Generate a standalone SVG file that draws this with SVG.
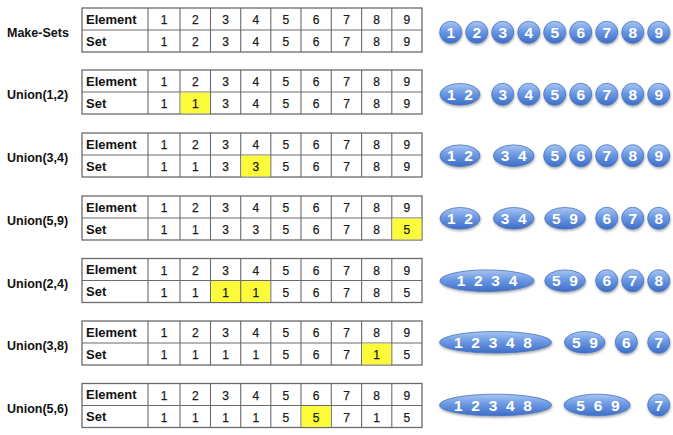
<svg xmlns="http://www.w3.org/2000/svg" xmlns:xlink="http://www.w3.org/1999/xlink" width="673" height="435" viewBox="0 0 673 435">
<style>
.lbl{font-family:"Liberation Sans",Arial,sans-serif;font-weight:bold;font-size:12.5px;fill:#111}
.hdr{font-family:"Liberation Sans",Arial,sans-serif;font-weight:bold;font-size:13px;fill:#111}
.num{font-family:"Liberation Sans",Arial,sans-serif;font-size:12px;fill:#1a1a1a;stroke:#1a1a1a;stroke-width:0.25;text-anchor:middle}
.tbl{fill:#fff;stroke:#6a6a6a;stroke-width:1.3}
.grid{fill:none;stroke:#6a6a6a;stroke-width:1.1}
.hl{fill:#fbfb3a}
.bub{fill:url(#bg);stroke:#4a74bd;stroke-width:0.8;filter:url(#sh)}
.bt{font-family:"Liberation Sans",Arial,sans-serif;font-weight:bold;font-size:15.5px;fill:#fff;text-anchor:middle;letter-spacing:2.2px}
</style>
<defs>
<linearGradient id="bg" x1="0" y1="0" x2="0" y2="1">
<stop offset="0" stop-color="#a9c6f3"/>
<stop offset="0.45" stop-color="#6c99e3"/>
<stop offset="1" stop-color="#3d6dc8"/>
</linearGradient>
<filter id="sh" x="-20%" y="-30%" width="140%" height="170%">
<feDropShadow dx="0.5" dy="1.5" stdDeviation="1" flood-color="#000" flood-opacity="0.35"/>
</filter>
<g id="tableBase">
<rect class="tbl" x="82" y="0" width="340" height="44"/>
<path class="grid" d="M82 22H422M148 0V44M180 0V44M210.5 0V44M240.7 0V44M270.8 0V44M301 0V44M331.3 0V44M361.6 0V44M391.8 0V44"/>
<text class="hdr" x="86" y="15.5">Element</text>
<text class="hdr" x="86" y="37.5">Set</text>
<text class="num" y="16.3"><tspan x="164">1</tspan><tspan x="195.3">2</tspan><tspan x="225.6">3</tspan><tspan x="255.8">4</tspan><tspan x="285.9">5</tspan><tspan x="316.2">6</tspan><tspan x="346.5">7</tspan><tspan x="376.7">8</tspan><tspan x="406.9">9</tspan></text>
</g>
</defs>

<g id="step-make-sets" transform="translate(0,8)">
<text class="lbl" x="7" y="29">Make-Sets</text>
<use xlink:href="#tableBase"/>
<text class="num" y="38.2"><tspan x="164">1</tspan><tspan x="195.3">2</tspan><tspan x="225.6">3</tspan><tspan x="255.8">4</tspan><tspan x="285.9">5</tspan><tspan x="316.2">6</tspan><tspan x="346.5">7</tspan><tspan x="376.7">8</tspan><tspan x="406.9">9</tspan></text>
<g id="sets-1">
<circle class="bub" cx="450.7" cy="24.3" r="11"/><text class="bt" x="451.8" y="29.8">1</text>
<circle class="bub" cx="476.7" cy="24.3" r="11"/><text class="bt" x="477.8" y="29.8">2</text>
<circle class="bub" cx="502.7" cy="24.3" r="11"/><text class="bt" x="503.8" y="29.8">3</text>
<circle class="bub" cx="528.7" cy="24.3" r="11"/><text class="bt" x="529.8" y="29.8">4</text>
<circle class="bub" cx="554.7" cy="24.3" r="11"/><text class="bt" x="555.8" y="29.8">5</text>
<circle class="bub" cx="580.7" cy="24.3" r="11"/><text class="bt" x="581.8" y="29.8">6</text>
<circle class="bub" cx="606.7" cy="24.3" r="11"/><text class="bt" x="607.8" y="29.8">7</text>
<circle class="bub" cx="632.7" cy="24.3" r="11"/><text class="bt" x="633.8" y="29.8">8</text>
<circle class="bub" cx="658.7" cy="24.3" r="11"/><text class="bt" x="659.8" y="29.8">9</text>
</g>
</g>

<g id="step-union-1-2" transform="translate(0,70)">
<text class="lbl" x="7" y="29">Union(1,2)</text>
<use xlink:href="#tableBase"/>
<rect class="hl" x="180.6" y="22.6" width="29.3" height="20.8"/>
<text class="num" y="38.2"><tspan x="164">1</tspan><tspan x="195.3">1</tspan><tspan x="225.6">3</tspan><tspan x="255.8">4</tspan><tspan x="285.9">5</tspan><tspan x="316.2">6</tspan><tspan x="346.5">7</tspan><tspan x="376.7">8</tspan><tspan x="406.9">9</tspan></text>
<g id="sets-2">
<ellipse class="bub" cx="460" cy="24.3" rx="20" ry="10.8"/><text class="bt" x="461.1" y="29.8">1 2</text>
<circle class="bub" cx="502.7" cy="24.3" r="11"/><text class="bt" x="503.8" y="29.8">3</text>
<circle class="bub" cx="528.7" cy="24.3" r="11"/><text class="bt" x="529.8" y="29.8">4</text>
<circle class="bub" cx="554.7" cy="24.3" r="11"/><text class="bt" x="555.8" y="29.8">5</text>
<circle class="bub" cx="580.7" cy="24.3" r="11"/><text class="bt" x="581.8" y="29.8">6</text>
<circle class="bub" cx="606.7" cy="24.3" r="11"/><text class="bt" x="607.8" y="29.8">7</text>
<circle class="bub" cx="632.7" cy="24.3" r="11"/><text class="bt" x="633.8" y="29.8">8</text>
<circle class="bub" cx="658.7" cy="24.3" r="11"/><text class="bt" x="659.8" y="29.8">9</text>
</g>
</g>

<g id="step-union-3-4" transform="translate(0,133)">
<text class="lbl" x="7" y="29">Union(3,4)</text>
<use xlink:href="#tableBase"/>
<rect class="hl" x="241.3" y="22.6" width="28.9" height="20.8"/>
<text class="num" y="38.2"><tspan x="164">1</tspan><tspan x="195.3">1</tspan><tspan x="225.6">3</tspan><tspan x="255.8">3</tspan><tspan x="285.9">5</tspan><tspan x="316.2">6</tspan><tspan x="346.5">7</tspan><tspan x="376.7">8</tspan><tspan x="406.9">9</tspan></text>
<g id="sets-3">
<ellipse class="bub" cx="460" cy="22.7" rx="20" ry="10.8"/><text class="bt" x="461.1" y="28.2">1 2</text>
<ellipse class="bub" cx="513.7" cy="22.7" rx="20.3" ry="10.8"/><text class="bt" x="514.8" y="28.2">3 4</text>
<circle class="bub" cx="554.7" cy="22.7" r="11"/><text class="bt" x="555.8" y="28.2">5</text>
<circle class="bub" cx="580.7" cy="22.7" r="11"/><text class="bt" x="581.8" y="28.2">6</text>
<circle class="bub" cx="606.7" cy="22.7" r="11"/><text class="bt" x="607.8" y="28.2">7</text>
<circle class="bub" cx="632.7" cy="22.7" r="11"/><text class="bt" x="633.8" y="28.2">8</text>
<circle class="bub" cx="658.7" cy="22.7" r="11"/><text class="bt" x="659.8" y="28.2">9</text>
</g>
</g>

<g id="step-union-5-9" transform="translate(0,196)">
<text class="lbl" x="7" y="29">Union(5,9)</text>
<use xlink:href="#tableBase"/>
<rect class="hl" x="392.4" y="22.6" width="29" height="20.8"/>
<text class="num" y="38.2"><tspan x="164">1</tspan><tspan x="195.3">1</tspan><tspan x="225.6">3</tspan><tspan x="255.8">3</tspan><tspan x="285.9">5</tspan><tspan x="316.2">6</tspan><tspan x="346.5">7</tspan><tspan x="376.7">8</tspan><tspan x="406.9">5</tspan></text>
<g id="sets-4">
<ellipse class="bub" cx="460" cy="22.3" rx="20" ry="10.8"/><text class="bt" x="461.1" y="27.8">1 2</text>
<ellipse class="bub" cx="513.7" cy="22.3" rx="20.3" ry="10.8"/><text class="bt" x="514.8" y="27.8">3 4</text>
<ellipse class="bub" cx="565" cy="22.3" rx="20.3" ry="10.8"/><text class="bt" x="566.1" y="27.8">5 9</text>
<circle class="bub" cx="606.7" cy="22.3" r="11"/><text class="bt" x="607.8" y="27.8">6</text>
<circle class="bub" cx="632.7" cy="22.3" r="11"/><text class="bt" x="633.8" y="27.8">7</text>
<circle class="bub" cx="658.7" cy="22.3" r="11"/><text class="bt" x="659.8" y="27.8">8</text>
</g>
</g>

<g id="step-union-2-4" transform="translate(0,258.5)">
<text class="lbl" x="7" y="29">Union(2,4)</text>
<use xlink:href="#tableBase"/>
<rect class="hl" x="211.1" y="22.6" width="59.1" height="20.8"/>
<path class="grid" d="M240.7 22V44"/>
<text class="num" y="38.2"><tspan x="164">1</tspan><tspan x="195.3">1</tspan><tspan x="225.6">1</tspan><tspan x="255.8">1</tspan><tspan x="285.9">5</tspan><tspan x="316.2">6</tspan><tspan x="346.5">7</tspan><tspan x="376.7">8</tspan><tspan x="406.9">5</tspan></text>
<g id="sets-5">
<ellipse class="bub" cx="487" cy="22.2" rx="47" ry="10.8"/><text class="bt" x="488.1" y="27.7">1 2 3 4</text>
<ellipse class="bub" cx="565" cy="22.2" rx="20.3" ry="10.8"/><text class="bt" x="566.1" y="27.7">5 9</text>
<circle class="bub" cx="606.7" cy="22.2" r="11"/><text class="bt" x="607.8" y="27.7">6</text>
<circle class="bub" cx="632.7" cy="22.2" r="11"/><text class="bt" x="633.8" y="27.7">7</text>
<circle class="bub" cx="658.7" cy="22.2" r="11"/><text class="bt" x="659.8" y="27.7">8</text>
</g>
</g>

<g id="step-union-3-8" transform="translate(0,321)">
<text class="lbl" x="7" y="29">Union(3,8)</text>
<use xlink:href="#tableBase"/>
<rect class="hl" x="362.2" y="22.6" width="29" height="20.8"/>
<text class="num" y="38.2"><tspan x="164">1</tspan><tspan x="195.3">1</tspan><tspan x="225.6">1</tspan><tspan x="255.8">1</tspan><tspan x="285.9">5</tspan><tspan x="316.2">6</tspan><tspan x="346.5">7</tspan><tspan x="376.7">1</tspan><tspan x="406.9">5</tspan></text>
<g id="sets-6">
<ellipse class="bub" cx="495.5" cy="21.3" rx="56" ry="10.8"/><text class="bt" x="494.1" y="26.8">1 2 3 4 8</text>
<ellipse class="bub" cx="584.7" cy="21.3" rx="20.3" ry="10.8"/><text class="bt" x="586.1" y="26.8">5 9</text>
<circle class="bub" cx="626.3" cy="21.3" r="11"/><text class="bt" x="627.4" y="26.8">6</text>
<circle class="bub" cx="658.7" cy="21.3" r="11"/><text class="bt" x="659.8" y="26.8">7</text>
</g>
</g>

<g id="step-union-5-6" transform="translate(0,383.5)">
<text class="lbl" x="7" y="29">Union(5,6)</text>
<use xlink:href="#tableBase"/>
<rect class="hl" x="301.6" y="22.6" width="29.1" height="20.8"/>
<text class="num" y="38.2"><tspan x="164">1</tspan><tspan x="195.3">1</tspan><tspan x="225.6">1</tspan><tspan x="255.8">1</tspan><tspan x="285.9">5</tspan><tspan x="316.2">5</tspan><tspan x="346.5">7</tspan><tspan x="376.7">1</tspan><tspan x="406.9">5</tspan></text>
<g id="sets-7">
<ellipse class="bub" cx="495.5" cy="21.5" rx="56" ry="10.8"/><text class="bt" x="494.1" y="27">1 2 3 4 8</text>
<ellipse class="bub" cx="597" cy="21.5" rx="33" ry="10.8"/><text class="bt" x="599.1" y="27">5 6 9</text>
<circle class="bub" cx="658.7" cy="21.5" r="11"/><text class="bt" x="659.8" y="27">7</text>
</g>
</g>

<g id="connectors"/>
</svg>
